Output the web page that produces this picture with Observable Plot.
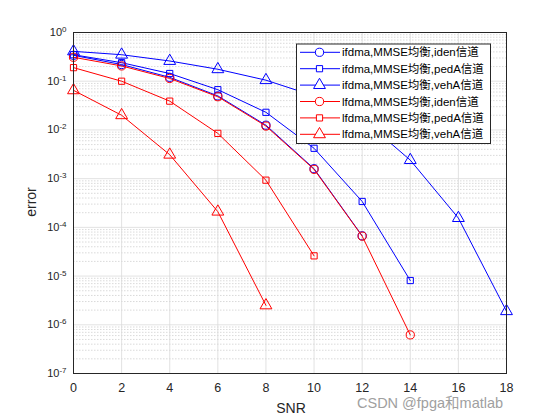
<!DOCTYPE html>
<html>
<head>
<meta charset="utf-8">
<script src="https://cdn.jsdelivr.net/npm/d3@7"></script>
<script src="https://cdn.jsdelivr.net/npm/@observablehq/plot@0.6"></script>
<style>
  body { margin: 0; background: #fff; }
  svg { font-family: "Liberation Sans", Arial, "Noto Sans CJK SC", sans-serif; }
</style>
</head>
<body>
<div id="chart"></div>
<script>
const snr = [0, 2, 4, 6, 8, 10, 12, 14, 16, 18];
const ifdmaIden = [0.34, 0.22, 0.12, 0.05, 0.0125, 1.6e-3, 6.7e-5];
const ifdmaPedA = [0.35, 0.24, 0.144, 0.067, 0.023, 4.2e-3, 3.4e-4, 8.1e-6];
const ifdmaVehA = [0.41, 0.35, 0.26, 0.176, 0.105, 0.05, 0.017, 2.4e-3, 1.55e-4, 1.9e-6];
const lfdmaIden = [0.31, 0.206, 0.114, 0.048, 0.012, 1.55e-3, 6.6e-5, 6.2e-7];
const lfdmaPedA = [0.19, 0.1, 0.039, 8.5e-3, 9.3e-4, 2.6e-5];
const lfdmaVehA = [0.065, 0.02, 3.1e-3, 2.1e-4, 2.5e-6];

const seriesNames = [
  "ifdma,MMSE均衡,iden信道",
  "ifdma,MMSE均衡,pedA信道",
  "ifdma,MMSE均衡,vehA信道",
  "lfdma,MMSE均衡,iden信道",
  "lfdma,MMSE均衡,pedA信道",
  "lfdma,MMSE均衡,vehA信道"
];
const seriesValues = [ifdmaIden, ifdmaPedA, ifdmaVehA, lfdmaIden, lfdmaPedA, lfdmaVehA];
const seriesColors = ["#0000ff", "#0000ff", "#0000ff", "#ff0000", "#ff0000", "#ff0000"];
const seriesSymbols = ["circle", "square", "triangle", "circle", "square", "triangle"];
const symbolR = {circle: 4.1, square: 3.5, triangle: 4.4};

const xTicks = [0, 2, 4, 6, 8, 10, 12, 14, 16, 18];
const yTicks = [1e-7, 1e-6, 1e-5, 1e-4, 1e-3, 1e-2, 1e-1, 1];
const yTickLabels = ["10^-7", "10^-6", "10^-5", "10^-4", "10^-3", "10^-2", "10^-1", "10^0"];
const minorY = [];
for (let e = -7; e < 0; e++) for (let k = 2; k <= 9; k++) minorY.push(k * Math.pow(10, e));

const rows = [];
seriesValues.forEach((vals, s) => vals.forEach((v, i) => rows.push({s, snr: snr[i], v})));

const marks = [
  Plot.ruleY(minorY, {stroke: "#d0d0d0", strokeDasharray: "1.5,1.5", strokeWidth: 0.8}),
  Plot.ruleY(yTicks, {stroke: "#dadada", strokeWidth: 0.8}),
  Plot.ruleX(xTicks, {stroke: "#dadada", strokeWidth: 0.8}),
];
seriesValues.forEach((vals, s) => {
  const d = rows.filter(r => r.s === s);
  marks.push(Plot.line(d, {x: "snr", y: "v", stroke: seriesColors[s], strokeWidth: 1}));
  marks.push(Plot.dot(d, {x: "snr", y: "v", stroke: seriesColors[s], fill: "none",
    symbol: seriesSymbols[s], r: symbolR[seriesSymbols[s]], strokeWidth: 1}));
});
marks.push(Plot.frame({stroke: "#262626", strokeWidth: 1}));
marks.push(Plot.axisX({ticks: xTicks, tickSize: 0, tickPadding: 10, fontSize: 12.5, label: null, color: "#262626"}));
marks.push(Plot.axisY({ticks: yTicks, tickSize: 0, tickPadding: 7, fontSize: 11, label: null,
  tickFormat: d => yTickLabels[yTicks.findIndex(t => Math.abs(Math.log10(t) - Math.log10(d)) < 1e-6)], color: "#262626"}));

const plot = Plot.plot({
  width: 560, height: 420,
  marginLeft: 73, marginRight: 54, marginTop: 32, marginBottom: 47,
  style: {fontFamily: '"Liberation Sans", Arial, "Noto Sans CJK SC", sans-serif', background: "#fff"},
  x: {domain: [0, 18]},
  y: {type: "log", domain: [1e-7, 1]},
  marks
});
document.getElementById("chart").appendChild(plot);

const svg = d3.select(plot);
// superscript exponents
svg.selectAll("text").each(function() {
  const t = d3.select(this);
  const txt = t.text();
  if (txt.includes("^")) {
    const [base, exp] = txt.split("^");
    t.text(null);
    t.append("tspan").text(base);
    t.append("tspan").attr("dy", "-0.5em").attr("font-size", "8px").text(exp);
  }
});
// axis labels
svg.append("text").attr("x", 291).attr("y", 413).attr("text-anchor", "middle")
  .attr("font-size", 14).attr("fill", "#262626").text("SNR");
svg.append("text").attr("transform", "translate(36,202) rotate(-90)").attr("text-anchor", "middle")
  .attr("font-size", 14).attr("fill", "#262626").text("error");

// legend
const lg = svg.append("g");
lg.append("rect").attr("x", 296.5).attr("y", 44).attr("width", 194).attr("height", 99.5)
  .attr("fill", "#fff").attr("stroke", "#262626").attr("stroke-width", 1);
const sym = {circle: d3.symbolCircle, square: d3.symbolSquare, triangle: d3.symbolTriangle};
seriesNames.forEach((name, i) => {
  const cy = 52.3 + i * 16.4;
  lg.append("line").attr("x1", 300).attr("x2", 340).attr("y1", cy).attr("y2", cy)
    .attr("stroke", seriesColors[i]).attr("stroke-width", 1);
  const r = symbolR[seriesSymbols[i]];
  lg.append("path").attr("transform", `translate(319.5,${cy})`)
    .attr("d", d3.symbol(sym[seriesSymbols[i]], Math.PI * r * r)())
    .attr("fill", "#fff").attr("stroke", seriesColors[i]).attr("stroke-width", 1);
  lg.append("text").attr("x", 342).attr("y", cy).attr("dy", "0.36em").attr("font-size", 11.5)
    .attr("text-anchor", "start").attr("fill", "#000").text(name);
});

// watermark
svg.append("text").attr("x", 357).attr("y", 408).attr("font-size", 14.5).attr("text-anchor", "start")
  .attr("fill", "#a0a0a0").text("CSDN @fpga和matlab");
</script>
</body>
</html>
